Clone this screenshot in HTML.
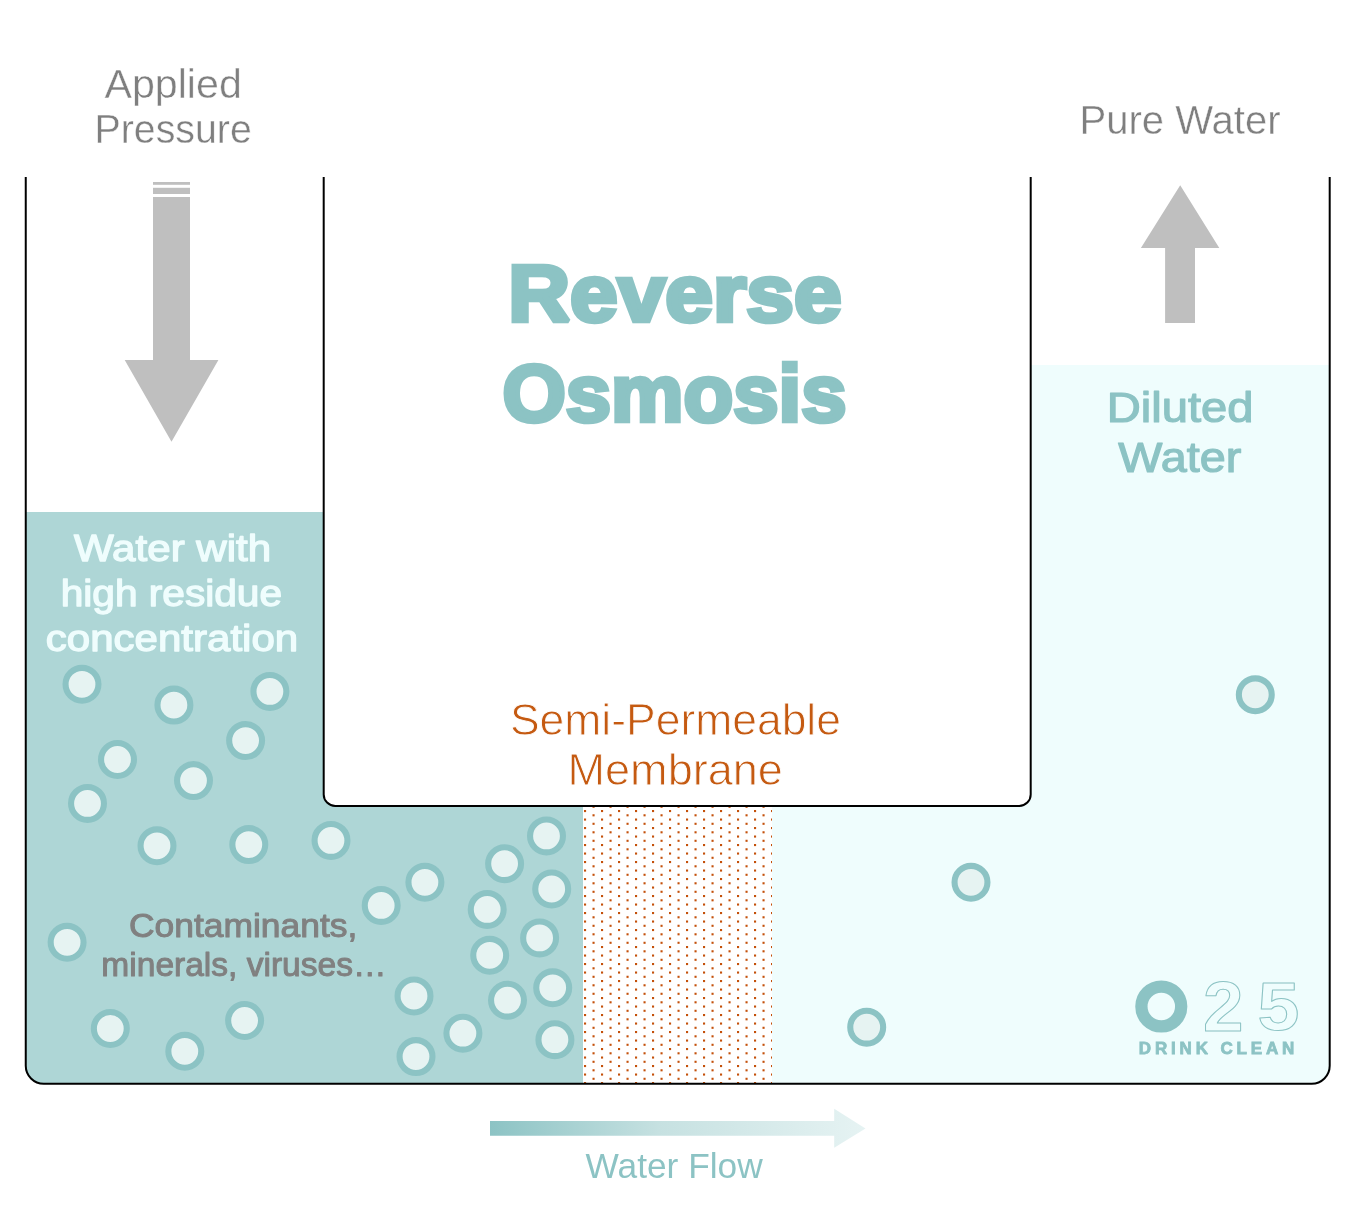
<!DOCTYPE html>
<html lang="en">
<head>
<meta charset="utf-8">
<title>Reverse Osmosis</title>
<style>
html,body{margin:0;padding:0;background:#fff;}
body{width:1370px;height:1225px;overflow:hidden;}
svg{display:block;will-change:transform;}
text{font-family:"Liberation Sans",sans-serif;}
</style>
</head>
<body>
<svg width="1370" height="1225" viewBox="0 0 1370 1225">
<defs>
<pattern id="dots" x="584" y="810" width="17" height="17" patternUnits="userSpaceOnUse">
<rect x="0" y="0" width="2.1" height="2.1" fill="#c4500a"/>
<rect x="0" y="8.5" width="2.1" height="2.1" fill="#c4500a"/>
<rect x="8.5" y="4.25" width="2.1" height="2.1" fill="#c4500a"/>
<rect x="8.5" y="12.75" width="2.1" height="2.1" fill="#c4500a"/>
</pattern>
<linearGradient id="flow" x1="0" y1="0" x2="1" y2="0">
<stop offset="0" stop-color="#8cc3c4"/>
<stop offset="0.45" stop-color="#c6e1e1"/>
<stop offset="1" stop-color="#e6f3f3"/>
</linearGradient>
</defs>
<rect width="1370" height="1225" fill="#ffffff"/>

<!-- left water -->
<path d="M25.75,512 H583 V1083.8 H43.75 a18,18 0 0 1 -18,-18 Z" fill="#aed6d6"/>
<!-- right water -->
<path d="M772,365 H1329.7 V1065.8 a18,18 0 0 1 -18,18 H772 Z" fill="#effdfd"/>
<!-- membrane -->
<rect x="583" y="800" width="189" height="283.8" fill="#ffffff"/>
<rect x="583" y="800" width="189" height="283.8" fill="url(#dots)"/>
<!-- inner box -->
<path d="M323.7,160 V794.4 a11.5,11.5 0 0 0 11.5,11.5 H1019.2 a11.5,11.5 0 0 0 11.5,-11.5 V160 Z" fill="#ffffff"/>
<path d="M323.7,177 V794.4 a11.5,11.5 0 0 0 11.5,11.5 H1019.2 a11.5,11.5 0 0 0 11.5,-11.5 V177" fill="none" stroke="#000" stroke-width="2"/>
<!-- outer tube -->
<path d="M25.75,177 V1065.8 a18,18 0 0 0 18,18 H1311.7 a18,18 0 0 0 18,-18 V177" fill="none" stroke="#000" stroke-width="2"/>

<!-- particles -->
<g fill="#e6f3f2" stroke="#8cc3c4" stroke-width="6.1">
<circle cx="82.0" cy="684.3" r="16.45"/>
<circle cx="173.9" cy="705.1" r="16.45"/>
<circle cx="269.9" cy="691.4" r="16.45"/>
<circle cx="245.6" cy="740.6" r="16.45"/>
<circle cx="117.5" cy="759.5" r="16.45"/>
<circle cx="193.5" cy="780.6" r="16.45"/>
<circle cx="87.5" cy="803.4" r="16.45"/>
<circle cx="157.0" cy="845.8" r="16.45"/>
<circle cx="248.8" cy="844.6" r="16.45"/>
<circle cx="331.0" cy="840.4" r="16.45"/>
<circle cx="67.1" cy="942.3" r="16.45"/>
<circle cx="110.3" cy="1028.5" r="16.45"/>
<circle cx="184.8" cy="1051.3" r="16.45"/>
<circle cx="244.6" cy="1020.5" r="16.45"/>
<circle cx="546.5" cy="835.9" r="16.45"/>
<circle cx="504.6" cy="863.7" r="16.45"/>
<circle cx="424.9" cy="882.3" r="16.45"/>
<circle cx="551.7" cy="889.0" r="16.45"/>
<circle cx="381.2" cy="905.4" r="16.45"/>
<circle cx="487.2" cy="909.4" r="16.45"/>
<circle cx="539.6" cy="937.9" r="16.45"/>
<circle cx="489.7" cy="955.3" r="16.45"/>
<circle cx="552.7" cy="987.8" r="16.45"/>
<circle cx="414.0" cy="996.0" r="16.45"/>
<circle cx="507.5" cy="1000.2" r="16.45"/>
<circle cx="462.9" cy="1033.2" r="16.45"/>
<circle cx="554.9" cy="1039.7" r="16.45"/>
<circle cx="416.0" cy="1056.6" r="16.45"/>
<circle cx="1255.3" cy="694.8" r="16.45"/>
<circle cx="971.0" cy="882.3" r="16.45"/>
<circle cx="866.7" cy="1027.2" r="16.45"/>
</g>

<!-- arrows -->
<g fill="#bfbfbf">
<rect x="153" y="182" width="37" height="2.8"/>
<rect x="153" y="187.8" width="37" height="6.2"/>
<path d="M153,197 H190 V360 H218.4 L171.5,441.8 L124.7,360 H153 Z"/>
<path d="M1180.2,185.3 L1219.3,248.1 H1195 V323 H1165.1 V248.1 H1140.9 Z"/>
</g>
<path d="M490,1121 H834.2 V1108.8 L865.5,1128.4 L834.2,1147.8 V1135.8 H490 Z" fill="url(#flow)"/>

<!-- labels -->
<text id="applied" x="104.41" y="98.0" font-size="40" font-weight="normal" fill="#7f7f7f" stroke="#fff" stroke-width="0.4" stroke-linejoin="round" stroke-miterlimit="2" textLength="137.39" lengthAdjust="spacingAndGlyphs">Applied</text>
<text id="pressure" x="94.41" y="142.5" font-size="40" font-weight="normal" fill="#7f7f7f" stroke="#fff" stroke-width="0.4" stroke-linejoin="round" stroke-miterlimit="2" textLength="157.46" lengthAdjust="spacingAndGlyphs">Pressure</text>
<text id="pure" x="1079.42" y="133.6" font-size="40" font-weight="normal" fill="#7f7f7f" stroke="#fff" stroke-width="0.4" stroke-linejoin="round" stroke-miterlimit="2" textLength="201.18" lengthAdjust="spacingAndGlyphs">Pure Water</text>
<text id="reverse" x="508.27" y="320.6" font-size="79.5" font-weight="bold" fill="#8cc3c4" stroke="#8cc3c4" stroke-width="4.5" stroke-linejoin="miter" stroke-miterlimit="2" textLength="333.33" lengthAdjust="spacingAndGlyphs">Reverse</text>
<text id="osmosis" x="502.43" y="420.6" font-size="79.5" font-weight="bold" fill="#8cc3c4" stroke="#8cc3c4" stroke-width="4.5" stroke-linejoin="miter" stroke-miterlimit="2" textLength="344.16" lengthAdjust="spacingAndGlyphs">Osmosis</text>
<text id="diluted" x="1106.75" y="422.2" font-size="42.2" font-weight="normal" fill="#8cc3c4" stroke="#8cc3c4" stroke-width="1.2" stroke-linejoin="round" stroke-miterlimit="2" textLength="146.76" lengthAdjust="spacingAndGlyphs">Diluted</text>
<text id="dwater" x="1118.33" y="472.2" font-size="42.2" font-weight="normal" fill="#8cc3c4" stroke="#8cc3c4" stroke-width="1.2" stroke-linejoin="round" stroke-miterlimit="2" textLength="123.03" lengthAdjust="spacingAndGlyphs">Water</text>
<text id="ww" x="73.96" y="560.65" font-size="36.6" font-weight="normal" fill="#effdfd" stroke="#effdfd" stroke-width="1.3" stroke-linejoin="round" stroke-miterlimit="2" textLength="197.24" lengthAdjust="spacingAndGlyphs">Water with</text>
<text id="hr" x="60.66" y="606.15" font-size="36.6" font-weight="normal" fill="#effdfd" stroke="#effdfd" stroke-width="1.3" stroke-linejoin="round" stroke-miterlimit="2" textLength="221.42" lengthAdjust="spacingAndGlyphs">high residue</text>
<text id="conc" x="45.83" y="651.05" font-size="36.6" font-weight="normal" fill="#effdfd" stroke="#effdfd" stroke-width="1.3" stroke-linejoin="round" stroke-miterlimit="2" textLength="252.39" lengthAdjust="spacingAndGlyphs">concentration</text>
<text id="contam" x="128.91" y="936.5" font-size="32.8" font-weight="normal" fill="#808080" stroke="#808080" stroke-width="1.0" stroke-linejoin="round" stroke-miterlimit="2" textLength="228.48" lengthAdjust="spacingAndGlyphs">Contaminants,</text>
<text id="miner" x="101.34" y="976.1" font-size="32.8" font-weight="normal" fill="#808080" stroke="#808080" stroke-width="1.0" stroke-linejoin="round" stroke-miterlimit="2" textLength="285.18" lengthAdjust="spacingAndGlyphs">minerals, viruses…</text>
<text id="semi" x="509.96" y="734.9" font-size="44.8" font-weight="normal" fill="#c55a11" stroke="#fff" stroke-width="0.9" stroke-linejoin="round" stroke-miterlimit="2" textLength="331.01" lengthAdjust="spacingAndGlyphs">Semi-Permeable</text>
<text id="memb" x="567.54" y="784.8" font-size="44.8" font-weight="normal" fill="#c55a11" stroke="#fff" stroke-width="0.9" stroke-linejoin="round" stroke-miterlimit="2" textLength="215.37" lengthAdjust="spacingAndGlyphs">Membrane</text>
<text id="flow" x="585.53" y="1177.8" font-size="34.5" font-weight="normal" fill="#8cc3c4" textLength="177.25" lengthAdjust="spacingAndGlyphs">Water Flow</text>
<text id="two" x="1202.98" y="1030.5" font-size="70.5" font-weight="bold" fill="none" stroke="#8cc3c4" stroke-width="1" stroke-linejoin="round" stroke-miterlimit="2" textLength="40.54" lengthAdjust="spacingAndGlyphs">2</text>
<text id="five" x="1257.54" y="1030.4" font-size="68.7" font-weight="bold" fill="none" stroke="#8cc3c4" stroke-width="1" stroke-linejoin="round" stroke-miterlimit="2" textLength="41.91" lengthAdjust="spacingAndGlyphs">5</text>
<text id="drink" x="1138.77" y="1053.5" font-size="17" font-weight="bold" fill="#8cc3c4" stroke="#8cc3c4" stroke-width="0.8" stroke-linejoin="miter" stroke-miterlimit="2" textLength="155.53" lengthAdjust="spacing">DRINK CLEAN</text>

<!-- logo ring -->
<circle cx="1161.3" cy="1006.5" r="19.9" fill="none" stroke="#8cc3c4" stroke-width="12.3"/>
</svg>
</body>
</html>
